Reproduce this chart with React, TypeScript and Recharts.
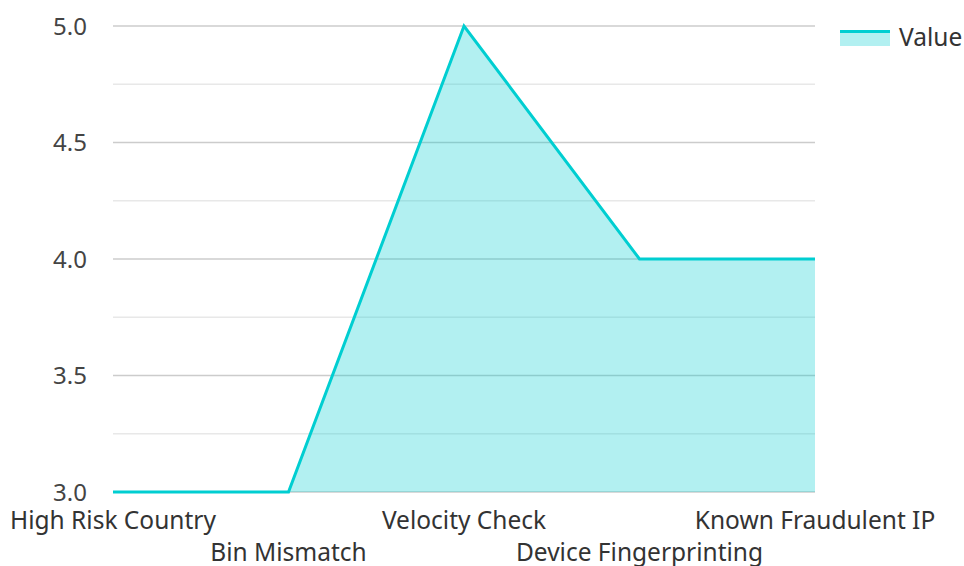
import React from 'react';
import {
  AreaChart, Area, XAxis, YAxis, CartesianGrid, Legend
} from 'recharts';

const categories = ['High Risk Country', 'Bin Mismatch', 'Velocity Check', 'Device Fingerprinting', 'Known Fraudulent IP'];
const values = [3, 3, 5, 4, 4];
const yTicks = [3, 3.5, 4, 4.5, 5];
const minorTicks = [3.25, 3.75, 4.25, 4.75];

const data = categories.map((name, i) => ({ name, value: values[i] }));

const FONT = '"Noto Sans", "Open Sans", sans-serif';
const COLOR = '#00ced1';

const XTick = (props: any) => {
  const { x, y, payload, index } = props;
  const dy = index % 2 === 0 ? 29 : 61;
  return (
    <text x={x} y={y + dy} textAnchor="middle" fill="#333" fontSize={24.5} fontFamily={FONT}>
      {payload.value}
    </text>
  );
};

const LegendContent = () => (
  <div style={{ display: 'flex', alignItems: 'center', fontFamily: FONT, fontSize: 24.5, color: '#333' }}>
    <svg width={50} height={18} style={{ marginRight: 9 }}>
      <rect x={0} y={4} width={50} height={14} fill={COLOR} fillOpacity={0.3} />
      <rect x={0} y={2} width={50} height={3} fill={COLOR} />
    </svg>
    <span>Value</span>
  </div>
);

export default function App() {
  return (
    <div style={{ position: 'absolute', left: 0, top: 0 }}>
      <AreaChart width={964} height={566} data={data} margin={{ top: 26, right: 25, bottom: 0, left: 0 }}>
        <CartesianGrid vertical={false} horizontalValues={minorTicks} stroke="#e8e8e8" strokeWidth={1.5} />
        <CartesianGrid vertical={false} horizontalValues={yTicks} stroke="#cccccc" strokeWidth={1.5} />
        <XAxis
          dataKey="name"
          axisLine={false}
          tickLine={false}
          height={74}
          interval={0}
          tick={<XTick />}
        />
        <YAxis
          domain={[3, 5]}
          ticks={yTicks}
          width={113}
          axisLine={false}
          tickLine={false}
          tickSize={0}
          tickMargin={26}
          tickFormatter={(v: number) => v.toFixed(1)}
          tick={{ fill: '#444', fontSize: 24, fontFamily: FONT }}
        />
        <Legend
          verticalAlign="top"
          align="right"
          layout="vertical"
          content={<LegendContent />}
          wrapperStyle={{ top: 20, right: 0, width: 124 }}
        />
        <Area
          type="linear"
          dataKey="value"
          stroke={COLOR}
          strokeWidth={3}
          fill={COLOR}
          fillOpacity={0.3}
          isAnimationActive={false}
        />
      </AreaChart>
    </div>
  );
}
